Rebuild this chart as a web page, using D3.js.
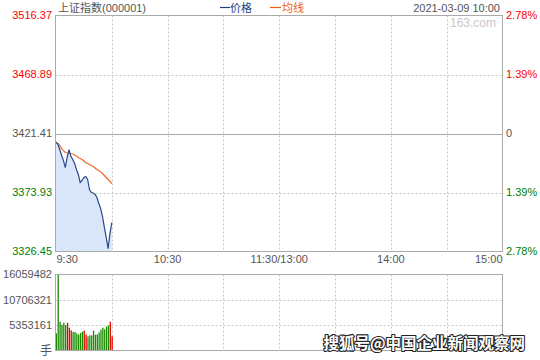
<!DOCTYPE html>
<html>
<head>
<meta charset="utf-8">
<script src="https://cdn.jsdelivr.net/npm/d3@7/dist/d3.min.js"></script>
<style>
  body { margin: 0; background: #fff; }
  svg { display: block; font-family: "Liberation Sans", "Noto Sans CJK SC", sans-serif; }
</style>
</head>
<body>
<svg id="chart" width="540" height="360"></svg>
<script>
// 分时数据 9:30 - 10:00
const priceValues = [3414.4, 3412.9, 3408.5, 3403.7, 3399.7, 3394.0, 3402.1, 3408.5, 3403.0, 3400.5,
  3397.3, 3392.4, 3388.4, 3382.0, 3383.6, 3386.0, 3386.8, 3384.4, 3376.3, 3373.9,
  3373.5, 3372.3, 3369.9, 3365.1, 3361.1, 3354.6, 3345.8, 3337.7, 3328.8, 3340.9, 3349.8];
const avgValues = [3414.4, 3413.4, 3411.8, 3409.3, 3407.7, 3406.1, 3405.7, 3405.5, 3405.3, 3404.9,
  3404.1, 3403.3, 3402.1, 3401.3, 3400.5, 3399.3, 3398.1, 3397.3, 3396.5, 3395.7,
  3394.9, 3393.7, 3392.4, 3391.6, 3390.4, 3389.2, 3387.6, 3386.0, 3384.4, 3382.8, 3381.2];
const volumeValues = [3620000, 16059482, 6070000, 5440000, 5860000, 5380000, 5860000, 4820000, 4250000, 3920000,
  3920000, 3620000, 3350000, 3700000, 3980000, 4190000, 3350000, 2990000, 3200000, 3200000,
  4190000, 3350000, 3410000, 3830000, 4400000, 4820000, 4460000, 5090000, 5300000, 6070000, 2990000];
// 1 = 红(上涨), 0 = 绿
const volumeUp = [0, 0, 0, 0, 0, 0, 1, 1, 1, 0, 0, 0, 0, 0, 0, 1, 1, 0, 0, 0,
  0, 0, 0, 0, 0, 0, 0, 0, 0, 1, 1];

const preClose = 3421.41;
const priceTicks = [3516.37, 3468.89, 3421.41, 3373.93, 3326.45];
const pctTicks = ["2.78%", "1.39%", "0", "1.39%", "2.78%"];
const volumeTicks = [16059482, 10706321, 5353161];
const timeLabels = ["9:30", "10:30", "11:30/13:00", "14:00", "15:00"];
const timeLabelMinutes = [0, 60, 120, 180, 240];

const svg = d3.select("#chart");

const pLeft = 55.5, pRight = 502.5;
const pTop = 15.5, pBottom = 251.5;
const vTop = 274.5, vBottom = 350.5;

const x = d3.scaleLinear().domain([0, 240]).range([pLeft + 0.5, pRight]);
const y = d3.scaleLinear().domain([3326.45, 3516.37]).range([pBottom, pTop]);
const yv = d3.scaleLinear().domain([0, 16059482]).range([vBottom, vTop]);

const gray = "#555";
const red = "#ff0000";
const green = "#008000";
const gridColor = "#c8c8c8";

// 标题和图例
svg.append("text").attr("x", 58).attr("y", 12).attr("font-size", 11).attr("fill", gray)
  .text("上证指数(000001)");
svg.append("line").attr("x1", 220).attr("x2", 230).attr("y1", 7.5).attr("y2", 7.5)
  .attr("stroke", "#1f3f7f").attr("stroke-width", 1.2);
svg.append("text").attr("x", 230).attr("y", 12).attr("font-size", 11).attr("fill", "#1f3f7f").text("价格");
svg.append("line").attr("x1", 270).attr("x2", 281).attr("y1", 7.5).attr("y2", 7.5)
  .attr("stroke", "#e8620f").attr("stroke-width", 1.2);
svg.append("text").attr("x", 282).attr("y", 12).attr("font-size", 11).attr("fill", "#e8620f").text("均线");
svg.append("text").attr("x", 500).attr("y", 12).attr("font-size", 11).attr("fill", gray)
  .attr("text-anchor", "end").text("2021-03-09 10:00");

// 价格区域网格
const gridMinutes = d3.range(30, 240, 30);
svg.selectAll(".vgrid").data(gridMinutes).enter().append("line")
  .attr("x1", d => Math.round(x(d)) + 0.5).attr("x2", d => Math.round(x(d)) + 0.5)
  .attr("y1", pTop).attr("y2", pBottom)
  .attr("stroke", gridColor).attr("stroke-dasharray", "2,2");
svg.selectAll(".hgrid").data([priceTicks[1], priceTicks[3]]).enter().append("line")
  .attr("x1", pLeft).attr("x2", pRight)
  .attr("y1", d => Math.round(y(d)) + 0.5).attr("y2", d => Math.round(y(d)) + 0.5)
  .attr("stroke", gridColor).attr("stroke-dasharray", "2,2");

svg.append("text").attr("x", 496).attr("y", 27).attr("font-size", 12).attr("fill", "#c8c8c8")
  .attr("text-anchor", "end").text("163.com");

// 面积和价格线
const area = d3.area().x((d, i) => x(i)).y0(pBottom).y1(d => y(d));
svg.append("path").datum(priceValues).attr("d", area).attr("fill", "#dae6fa");
svg.append("path").datum(avgValues)
  .attr("d", d3.line().x((d, i) => x(i)).y(d => y(d)))
  .attr("fill", "none").attr("stroke", "#f06a28").attr("stroke-width", 1.2);
svg.append("path").datum(priceValues)
  .attr("d", d3.line().x((d, i) => x(i)).y(d => y(d)))
  .attr("fill", "none").attr("stroke", "#2b4a86").attr("stroke-width", 1.2);

// 边框和零轴
svg.append("rect").attr("x", pLeft).attr("y", pTop).attr("width", pRight - pLeft).attr("height", pBottom - pTop)
  .attr("fill", "none").attr("stroke", "#aaa");
svg.append("line").attr("x1", pLeft).attr("x2", pRight)
  .attr("y1", Math.round(y(preClose)) + 0.5).attr("y2", Math.round(y(preClose)) + 0.5)
  .attr("stroke", "#aaa");

// 左侧价格刻度
svg.selectAll(".plabel").data(priceTicks).enter().append("text")
  .attr("x", 52).attr("y", d => y(d)).attr("dy", "0.35em")
  .attr("text-anchor", "end").attr("font-size", 11)
  .attr("fill", d => d > preClose + 0.01 ? red : (d < preClose - 0.01 ? green : gray))
  .text(d => d.toFixed(2));

// 右侧涨跌幅刻度
svg.selectAll(".rlabel").data(priceTicks).enter().append("text")
  .attr("x", 506).attr("y", d => y(d)).attr("dy", "0.35em")
  .attr("font-size", 11)
  .attr("fill", d => d > preClose + 0.01 ? red : (d < preClose - 0.01 ? green : gray))
  .text((d, i) => pctTicks[i]);

// 时间刻度
svg.selectAll(".tlabel").data(timeLabelMinutes).enter().append("text")
  .attr("x", (d, i) => i === 0 ? pLeft + 1 : (i === timeLabelMinutes.length - 1 ? pRight : x(d)))
  .attr("y", 263).attr("font-size", 11).attr("fill", gray)
  .attr("text-anchor", (d, i) => i === 0 ? "start" : (i === timeLabelMinutes.length - 1 ? "end" : "middle"))
  .text((d, i) => timeLabels[i]);

// 成交量区域
svg.selectAll(".vvgrid").data(gridMinutes).enter().append("line")
  .attr("x1", d => Math.round(x(d)) + 0.5).attr("x2", d => Math.round(x(d)) + 0.5)
  .attr("y1", vTop).attr("y2", vBottom)
  .attr("stroke", gridColor).attr("stroke-dasharray", "2,2");
svg.selectAll(".vhgrid").data(volumeTicks.slice(1)).enter().append("line")
  .attr("x1", pLeft).attr("x2", pRight)
  .attr("y1", d => Math.round(yv(d)) + 0.5).attr("y2", d => Math.round(yv(d)) + 0.5)
  .attr("stroke", gridColor).attr("stroke-dasharray", "2,2");

svg.selectAll(".vbar").data(volumeValues).enter().append("rect")
  .attr("x", (d, i) => x(i) - 0.3)
  .attr("y", d => yv(d))
  .attr("width", 1.3)
  .attr("height", d => vBottom - yv(d))
  .attr("fill", (d, i) => volumeUp[i] ? "#ee0000" : "#1a8c00");

svg.append("rect").attr("x", pLeft).attr("y", vTop).attr("width", pRight - pLeft).attr("height", vBottom - vTop)
  .attr("fill", "none").attr("stroke", "#aaa");

svg.selectAll(".vlabel").data(volumeTicks).enter().append("text")
  .attr("x", 52).attr("y", d => yv(d)).attr("dy", "0.35em")
  .attr("text-anchor", "end").attr("font-size", 11).attr("fill", gray)
  .text(d => d);
svg.append("text").attr("x", 52).attr("y", vBottom).attr("dy", "0.35em")
  .attr("text-anchor", "end").attr("font-size", 12).attr("fill", gray).text("手");

// 水印
svg.append("text").attr("x", 525).attr("y", 349).attr("text-anchor", "end")
  .attr("font-size", 15.5).attr("font-weight", "bold")
  .attr("font-family", "'Noto Sans CJK SC', sans-serif")
  .attr("fill", "#fff").attr("stroke", "#222").attr("stroke-width", 2.2)
  .attr("paint-order", "stroke").attr("stroke-linejoin", "round")
  .text("搜狐号@中国企业新闻观察网");
</script>
</body>
</html>
